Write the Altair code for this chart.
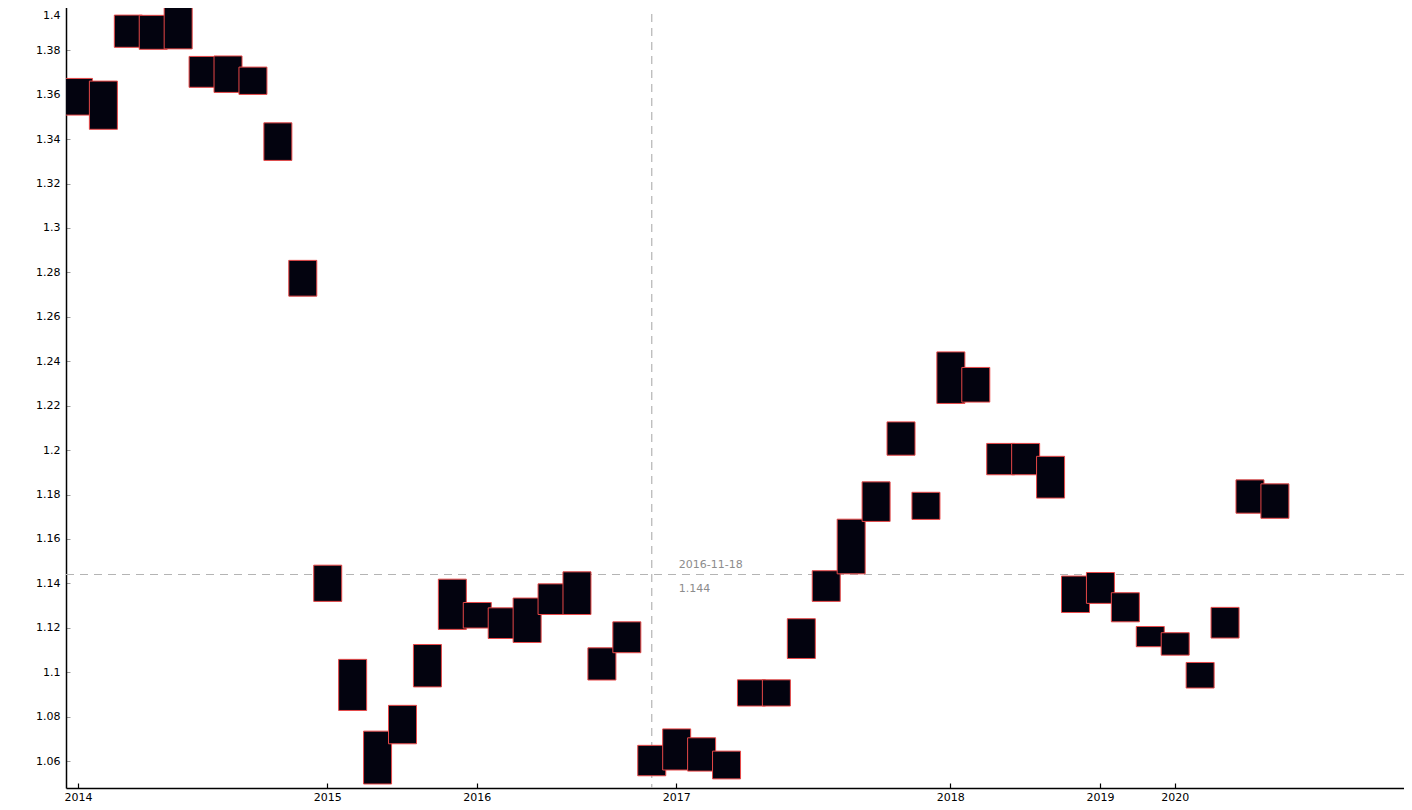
import altair as alt
import pandas as pd

# rectangle upper / lower edges, one per period (ordinal slots)
upper = [1.3673, 1.3661, 1.3958, 1.3957, 1.4009, 1.3772, 1.3774, 1.3724, 1.3473, 1.2854,
         1.1482, 1.1058, 1.0735, 1.0851, 1.1125, 1.1419, 1.1314, 1.1290, 1.1334, 1.1398,
         1.1452, 1.1110, 1.1227,
         1.0671, 1.0745, 1.0705, 1.0645, 1.0966, 1.0966, 1.1241, 1.1457, 1.1689, 1.1857,
         1.2127, 1.1810,
         1.2442, 1.2372, 1.2030, 1.2030, 1.1972, 1.1433, 1.1449, 1.1358, 1.1206, 1.1178,
         1.1044, 1.1292, 1.1866, 1.1848]
lower = [1.3508, 1.3444, 1.3813, 1.3804, 1.3806, 1.3633, 1.3610, 1.3601, 1.3304, 1.2693,
         1.1319, 1.0828, 1.0497, 1.0678, 1.0934, 1.1193, 1.1199, 1.1152, 1.1134, 1.1260,
         1.1260, 1.0965, 1.1088,
         1.0534, 1.0560, 1.0555, 1.0520, 1.0848, 1.0848, 1.1062, 1.1319, 1.1443, 1.1679,
         1.1977, 1.1688,
         1.2210, 1.2216, 1.1889, 1.1889, 1.1784, 1.1269, 1.1310, 1.1227, 1.1115, 1.1077,
         1.0929, 1.1154, 1.1716, 1.1693]
n_slots = 54  # ordinal slots spanned by the x axis

year_tick_slots = [0, 10, 16, 24, 35, 41, 44]
year_tick_labels = ["2014", "2015", "2016", "2017", "2018", "2019", "2020"]
y_ticks = [1.06, 1.08, 1.10, 1.12, 1.14, 1.16, 1.18, 1.20, 1.22, 1.24, 1.26, 1.28,
           1.30, 1.32, 1.34, 1.36, 1.38, 1.40]
y_domain = [1.0479, 1.4026]

cross_slot = 23
cross_value = 1.144
cross_date = "2016-11-18"

bars = pd.DataFrame({"slot": list(range(len(upper))), "upper": upper, "lower": lower})
cross = pd.DataFrame({"slot": [cross_slot], "value": [cross_value],
                      "date": [cross_date], "vtxt": [f"{cross_value:.3f}"]})

label_expr = "''"
for v, l in reversed(list(zip(year_tick_slots, year_tick_labels))):
    label_expr = f"datum.value == {v} ? '{l}' : ({label_expr})"

W, H = 1338, 788
XR = 1346
FONT = "DejaVu Sans"

xscale = alt.Scale(type="band", domain=list(range(n_slots)), paddingInner=0,
                   paddingOuter=0, range=[0, XR])
yscale = alt.Scale(domain=y_domain, nice=False, zero=False)

bar_layer = alt.Chart(bars).mark_bar(
    size=28, fill="#03030f", stroke="#e84848", strokeWidth=1, clip=True
).encode(
    x=alt.X("slot:O", scale=xscale,
            axis=alt.Axis(orient="bottom", values=year_tick_slots, labelExpr=label_expr,
                          title=None, ticks=False, tickSize=0, labelAngle=0,
                          labelPadding=3, labelFont=FONT, labelFontSize=11,
                          labelColor="#000000", domainColor="#000000", domainWidth=1.5,
                          grid=False)),
    y=alt.Y("upper:Q", scale=yscale,
            axis=alt.Axis(orient="left", values=y_ticks, format=".2~f", title=None,
                          ticks=False, tickSize=0, labelPadding=6, labelFont=FONT,
                          labelFontSize=11, labelColor="#000000",
                          labelOffset={"condition": {"test": "datum.value >= 1.399",
                                                     "value": 10}, "value": 0},
                          domainColor="#000000", domainWidth=1.5, grid=False)),
    y2="lower:Q",
)

vrule = alt.Chart(cross).mark_rule(
    color="#b4b4b4", strokeDash=[8, 6], strokeWidth=1.2
).encode(
    x=alt.X("slot:O", scale=xscale,
            axis=alt.Axis(orient="top", offset=-H, values=year_tick_slots, labels=False,
                          domain=False, title=None, tickSize=5, tickColor="#000000",
                          tickWidth=1.2, grid=False)),
)

hrule = alt.Chart(cross).mark_rule(
    color="#b4b4b4", strokeDash=[8, 6], strokeWidth=1.2
).encode(
    y=alt.Y("value:Q", scale=yscale,
            axis=alt.Axis(orient="right", offset=-W, values=y_ticks, labels=False,
                          domain=False, title=None, tickSize=4, tickColor="#9a9a9a",
                          grid=False)),
)

date_txt = alt.Chart(cross).mark_text(
    align="left", baseline="alphabetic", dx=27, dy=-7, font=FONT, fontSize=11,
    color="#8c8c8c"
).encode(
    x=alt.X("slot:O", scale=xscale, axis=None),
    y=alt.Y("value:Q", scale=yscale, axis=None),
    text="date:N",
)

val_txt = alt.Chart(cross).mark_text(
    align="left", baseline="alphabetic", dx=27, dy=17, font=FONT, fontSize=11,
    color="#8c8c8c"
).encode(
    x=alt.X("slot:O", scale=xscale, axis=None),
    y=alt.Y("value:Q", scale=yscale, axis=None),
    text="vtxt:N",
)

chart = alt.layer(vrule, hrule, bar_layer, date_txt, val_txt).resolve_axis(
    x="independent", y="independent"
).properties(
    width=W, height=H,
    padding={"left": 58, "top": -8, "right": 0, "bottom": 14},
    autosize=alt.AutoSizeParams(type="none"),
    background="#ffffff",
).configure_view(stroke=None)

chart.save("out.html", embed_options={"renderer": "svg", "actions": False})
